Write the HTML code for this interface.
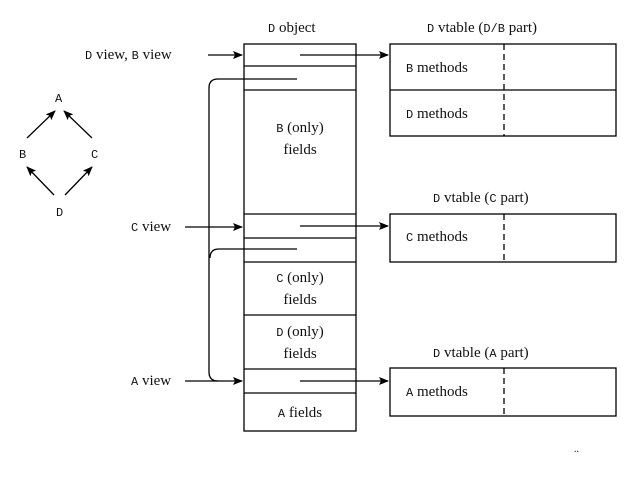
<!DOCTYPE html>
<html><head><style>
html,body{margin:0;padding:0;background:#fff;}
svg text{font-family:"Liberation Serif",serif;font-size:15px;fill:#111;}
.m{font-family:"Liberation Mono",monospace;font-size:12px;}
</style></head><body>
<svg width="638" height="478" xmlns="http://www.w3.org/2000/svg">
<defs><marker id="ar" markerWidth="10" markerHeight="8" refX="9" refY="4" orient="auto" markerUnits="userSpaceOnUse"><path d="M0,0 L10,4 L0,8 L2,4 Z" fill="#000"/></marker></defs>
<g stroke="#000" stroke-width="1.3" fill="none">
<!-- diamond -->
<line x1="27" y1="138" x2="55" y2="111" marker-end="url(#ar)"/>
<line x1="92" y1="138" x2="64" y2="111" marker-end="url(#ar)"/>
<line x1="54" y1="195" x2="27" y2="167" marker-end="url(#ar)"/>
<line x1="65" y1="195" x2="92" y2="167" marker-end="url(#ar)"/>
<!-- object -->
<rect x="244" y="44" width="112" height="387"/>
<line x1="244" y1="66" x2="356" y2="66"/>
<line x1="244" y1="90" x2="356" y2="90"/>
<line x1="244" y1="214" x2="356" y2="214"/>
<line x1="244" y1="238" x2="356" y2="238"/>
<line x1="244" y1="262" x2="356" y2="262"/>
<line x1="244" y1="315" x2="356" y2="315"/>
<line x1="244" y1="369" x2="356" y2="369"/>
<line x1="244" y1="393" x2="356" y2="393"/>
<!-- view arrows -->
<line x1="208" y1="55" x2="242" y2="55" marker-end="url(#ar)"/>
<line x1="185" y1="227" x2="242" y2="227" marker-end="url(#ar)"/>
<line x1="185" y1="381" x2="242" y2="381" marker-end="url(#ar)"/>
<!-- back pointers -->
<path d="M297,79 L218,79 Q209,79 209,88 L209,372 Q209,381 218,381"/>
<path d="M297,249 L219,249 Q210,249 210,258"/>
<!-- vptr arrows -->
<line x1="300" y1="55" x2="388" y2="55" marker-end="url(#ar)"/>
<line x1="300" y1="226" x2="388" y2="226" marker-end="url(#ar)"/>
<line x1="300" y1="381" x2="388" y2="381" marker-end="url(#ar)"/>
<!-- vtables -->
<rect x="390" y="44" width="226" height="92"/>
<line x1="390" y1="90" x2="616" y2="90"/>
<rect x="390" y="214" width="226" height="48"/>
<rect x="390" y="368" width="226" height="48"/>
<g stroke-dasharray="6,4">
<line x1="504" y1="44" x2="504" y2="136"/>
<line x1="504" y1="214" x2="504" y2="262"/>
<line x1="504" y1="368" x2="504" y2="416"/>
</g>
</g>
<text class="m" x="55" y="102">A</text>
<text class="m" x="19" y="158">B</text>
<text class="m" x="91" y="158">C</text>
<text class="m" x="56" y="216">D</text>
<text x="268" y="32"><tspan class="m">D</tspan> object</text>
<text x="85" y="59"><tspan class="m">D</tspan> view, <tspan class="m">B</tspan> view</text>
<text x="131" y="231"><tspan class="m">C</tspan> view</text>
<text x="131" y="385"><tspan class="m">A</tspan> view</text>
<text x="300" y="132" text-anchor="middle"><tspan class="m">B</tspan> (only)</text>
<text x="300" y="154" text-anchor="middle">fields</text>
<text x="300" y="282" text-anchor="middle"><tspan class="m">C</tspan> (only)</text>
<text x="300" y="304" text-anchor="middle">fields</text>
<text x="300" y="336" text-anchor="middle"><tspan class="m">D</tspan> (only)</text>
<text x="300" y="358" text-anchor="middle">fields</text>
<text x="300" y="417" text-anchor="middle"><tspan class="m">A</tspan> fields</text>
<text x="427" y="32"><tspan class="m">D</tspan> vtable (<tspan class="m">D/B</tspan> part)</text>
<text x="406" y="72"><tspan class="m">B</tspan> methods</text>
<text x="406" y="118"><tspan class="m">D</tspan> methods</text>
<text x="433" y="202"><tspan class="m">D</tspan> vtable (<tspan class="m">C</tspan> part)</text>
<text x="406" y="241"><tspan class="m">C</tspan> methods</text>
<text x="433" y="357"><tspan class="m">D</tspan> vtable (<tspan class="m">A</tspan> part)</text>
<text x="406" y="396"><tspan class="m">A</tspan> methods</text>
<text x="574" y="452" style="font-size:10px">..</text>
</svg>
</body></html>
